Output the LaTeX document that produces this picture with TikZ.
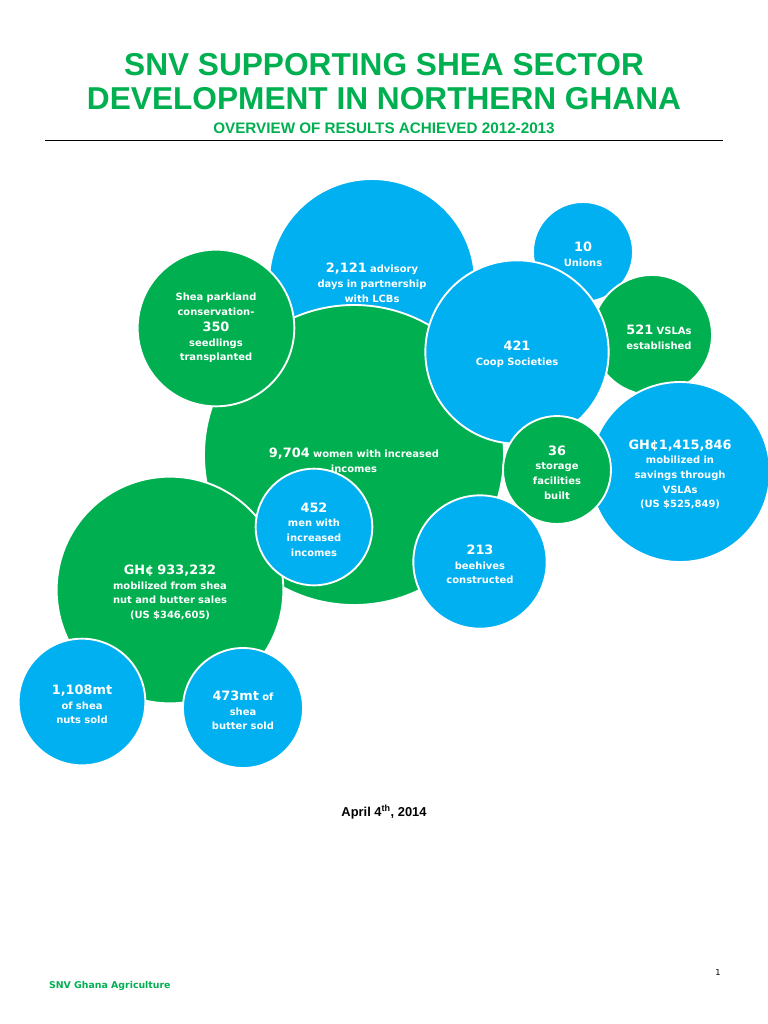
\documentclass[tikz,border=0pt]{standalone}
\usepackage{fontspec}
\setmainfont{DejaVu Sans}
\newfontfamily\titlefont{Liberation Sans}
\usetikzlibrary{positioning}
\definecolor{sheagreen}{HTML}{00B050}
\definecolor{sheablue}{HTML}{00B0F0}
\newcommand{\bnum}[1]{{\fontsize{11}{12}\selectfont\rule{0pt}{12.5pt}#1}}
\tikzset{
  bubble/.style={circle, draw=white, line width=1.6pt, inner sep=0pt,
    minimum size=#1, text width=0.85*#1},
  txt/.style={text=white, font=\bfseries\fontsize{8.5}{12.5}\selectfont, align=center}
}
\begin{document}
\begin{tikzpicture}[x=0.03cm,y=-0.03cm]
  \useasboundingbox (0,0) rectangle (768,1024);

  % title block
  \node[text=sheagreen, font=\titlefont\bfseries\fontsize{27}{29}\selectfont, align=center] (title) at (384,82)
    {SNV SUPPORTING SHEA SECTOR\\DEVELOPMENT IN NORTHERN GHANA};
  \node[text=sheagreen, font=\titlefont\bfseries\fontsize{13}{14}\selectfont] (subtitle) at (384,128)
    {OVERVIEW OF RESULTS ACHIEVED 2012-2013};
  \draw[line width=0.6pt] (45,140) -- (723,140);

  % bubbles
  \node[bubble=6.18cm, fill=sheablue] (advisory) at (372,282) {};
  \node[txt, anchor=north, text width=4.5cm] (advisorytxt) at (372,254) {\bnum{2,121} advisory\\days in partnership\\with LCBs};
  \node[bubble=9cm, fill=sheagreen] (women) at (354,455) {};
  \node[txt, text width=6cm] (womentxt) at (354,458) {\bnum{9,704} women with increased\\incomes};
  \node[bubble=4.7cm, fill=sheagreen, txt] (parkland) at (216,328) {Shea parkland\\conservation-\\\bnum{350}\\seedlings\\transplanted};
  \node[bubble=3cm, fill=sheablue, txt] (unions) at (583,252) {\bnum{10}\\Unions};
  \node[bubble=3.6cm, fill=sheagreen, txt] (vsla) at (652,335) {\hspace*{1.4em}\bnum{521} VSLAs\\\hspace*{1.4em}established};
  \node[bubble=5.5cm, fill=sheablue, txt] (coop) at (517,352) {\bnum{421}\\Coop Societies};
  \node[bubble=5.4cm, fill=sheablue, txt] (savings) at (680,472) {\bnum{GH¢1,415,846}\\mobilized in\\savings through\\VSLAs\\(US \$525,849)};
  \node[bubble=3.2cm, fill=sheagreen, txt] (storage) at (557,470) {\bnum{36}\\storage\\facilities\\built};
  \node[bubble=4cm, fill=sheablue, txt] (beehives) at (480,562) {\bnum{213}\\beehives\\constructed};
  \node[bubble=6.8cm, fill=sheagreen, txt] (sales) at (170,590) {\bnum{GH¢ 933,232}\\mobilized from shea\\nut and butter sales\\(US \$346,605)};
  \node[bubble=3.5cm, fill=sheablue, txt] (men) at (314,527) {\bnum{452}\\men with\\increased\\incomes};
  \node[bubble=3.8cm, fill=sheablue, txt] (nuts) at (82,702) {\bnum{1,108mt}\\of shea\\nuts sold};
  \node[bubble=3.6cm, fill=sheablue, txt] (butter) at (243,708) {\bnum{473mt} of\\shea\\butter sold};

  % date and footer
  \node[font=\titlefont\bfseries\fontsize{11}{12}\selectfont] (date) at (384,812) {April 4\textsuperscript{th}, 2014};
  \node[font=\fontsize{7}{8}\selectfont] (page) at (718,972) {1};
  \node[anchor=west, text=sheagreen, font=\bfseries\fontsize{8}{9}\selectfont] (footer) at (45,986) {SNV Ghana Agriculture};
\end{tikzpicture}
\end{document}
